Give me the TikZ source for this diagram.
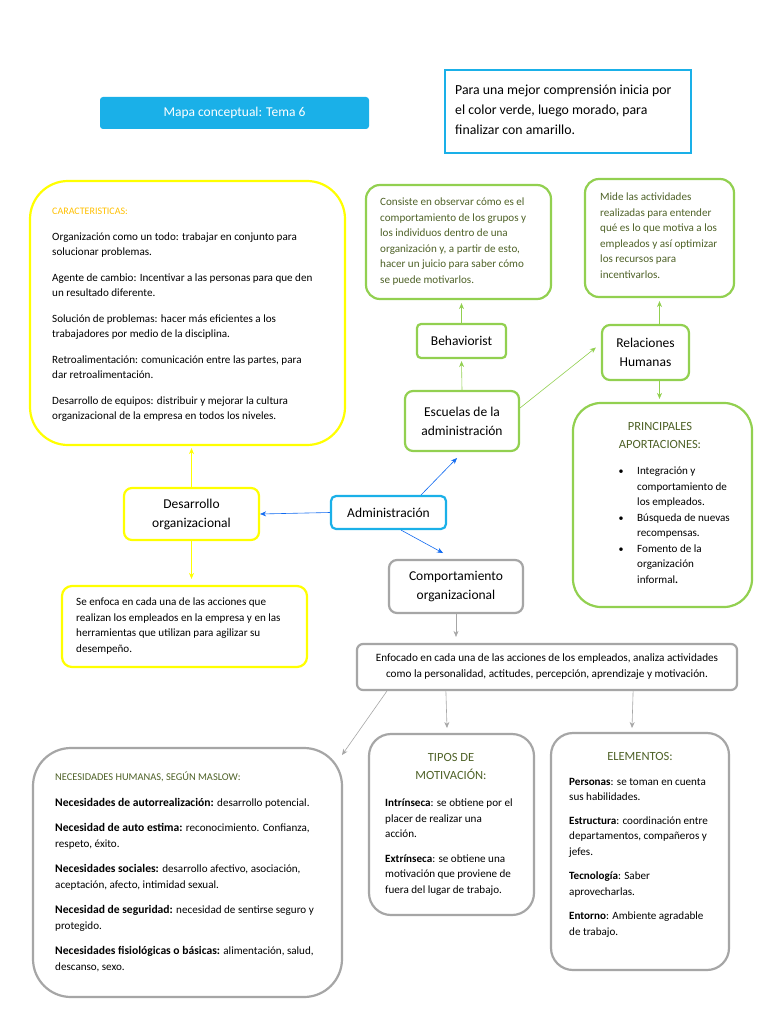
\documentclass[tikz,border=0pt]{standalone}
\usepackage{fontspec}
\setmainfont{Carlito}
\usetikzlibrary{arrows.meta}
\definecolor{cblue}{RGB}{26,176,232}
\definecolor{cgreen}{RGB}{146,208,80}
\definecolor{dgreen}{RGB}{79,98,40}
\definecolor{cyel}{RGB}{255,255,0}
\definecolor{corange}{RGB}{255,192,0}
\definecolor{cgray}{RGB}{166,166,166}
\tikzset{
 box/.style={draw,line width=2.2pt,inner sep=0pt},
 ybox/.style={box,draw=cyel},
 gbox/.style={box,draw=cgreen},
 grbox/.style={box,draw=cgray},
 txt/.style={inner sep=0pt,anchor=north west,font=\fontsize{11.1}{15.5}\selectfont,align=left},
 ctxt/.style={inner sep=0pt,align=center,font=\fontsize{13.5}{19}\selectfont},
 htxt/.style={inner sep=0pt,align=center,font=\fontsize{12.5}{18}\selectfont,text=dgreen},
 arr/.style={-{Stealth[length=6pt,width=5pt]},line width=0.6pt},
}
\begin{document}
\begin{tikzpicture}[x=1pt,y=-1pt]
\useasboundingbox (0,0) rectangle (768,1024);
\fill[white] (0,0) rectangle (768,1024);
% title
\node[fill=cblue,rounded corners=3pt,minimum width=269pt,minimum height=32pt,text=white,font=\fontsize{13.5}{15}\selectfont] (title) at (234.5,113) {Mapa conceptual: Tema 6};
\node[draw=cblue,line width=1.2pt,minimum width=246pt,minimum height=83pt] (note) at (568,111.5) {};
\node[txt,font=\fontsize{13.8}{20}\selectfont] (notet) at (455,85) {Para una mejor comprensión inicia por\\el color verde, luego morado, para\\finalizar con amarillo.};
% caracteristicas
\node[ybox,rounded corners=38pt,minimum width=315pt,minimum height=264pt] (car) at (187.5,313) {};
\node[txt] (cart) at (52,208) {\textcolor{corange}{\fontsize{10}{14}\selectfont CARACTERISTICAS:}\\[10pt]
Organización como un todo: trabajar en conjunto para\\solucionar problemas.\\[10pt]
Agente de cambio: Incentivar a las personas para que den\\un resultado diferente.\\[10pt]
Solución de problemas: hacer más eficientes a los\\trabajadores por medio de la disciplina.\\[10pt]
Retroalimentación: comunicación entre las partes, para\\dar retroalimentación.\\[10pt]
Desarrollo de equipos: distribuir y mejorar la cultura\\organizacional de la empresa en todos los niveles.};
\node[ybox,rounded corners=8pt,minimum width=135pt,minimum height=52pt] (des) at (191.5,514) {};
\node[ctxt] (dest) at (des) {Desarrollo\\organizacional};
\node[ybox,rounded corners=10pt,minimum width=245pt,minimum height=81pt] (desb) at (184.5,626.5) {};
\node[txt] (desbt) at (76,598) {Se enfoca en cada una de las acciones que\\realizan los empleados en la empresa y en las\\herramientas que utilizan para agilizar su\\desempeño.};
% administracion
\node[draw=cblue,line width=2.2pt,rounded corners=5pt,minimum width=115pt,minimum height=33pt,font=\fontsize{13.5}{15}\selectfont] (adm) at (388.5,512.5) {Administración};
% escuelas
\node[gbox,rounded corners=8pt,minimum width=114pt,minimum height=60pt] (esc) at (462,421) {};
\node[ctxt] (esct) at (esc) {Escuelas de la\\administración};
\node[gbox,rounded corners=4pt,minimum width=89pt,minimum height=34pt,font=\fontsize{13.5}{15}\selectfont] (beh) at (461.5,341) {Behaviorist};
\node[gbox,rounded corners=14pt,minimum width=185pt,minimum height=114pt] (obs) at (458.5,242) {};
\node[txt,text=dgreen] (obst) at (380,198) {Consiste en observar cómo es el\\comportamiento de los grupos y\\los individuos dentro de una\\organización y, a partir de esto,\\hacer un juicio para saber cómo\\se puede motivarlos.};
\node[gbox,rounded corners=8pt,minimum width=87pt,minimum height=55pt] (rel) at (645.5,352.5) {};
\node[ctxt] (relt) at (rel) {Relaciones\\Humanas};
\node[gbox,rounded corners=14pt,minimum width=149pt,minimum height=118pt] (mide) at (659.5,238) {};
\node[txt,text=dgreen] (midet) at (600,193) {Mide las actividades\\realizadas para entender\\qué es lo que motiva a los\\empleados y así optimizar\\los recursos para\\incentivarlos.};
\node[gbox,rounded corners=28pt,minimum width=179pt,minimum height=204pt] (pri) at (662.5,505) {};
\node[htxt,anchor=north] (prit) at (660,422) {PRINCIPALES\\APORTACIONES:};
\node[txt] (pril) at (637,467) {Integración y\\comportamiento de\\los empleados.\\Búsqueda de nuevas\\recompensas.\\Fomento de la\\organización\\informal\textbf{.}};
\node[inner sep=0pt] (b1) at (621,472) {\textbullet};
\node[inner sep=0pt] (b2) at (621,519) {\textbullet};
\node[inner sep=0pt] (b3) at (621,550) {\textbullet};
% comportamiento
\node[grbox,rounded corners=8pt,minimum width=134pt,minimum height=53pt] (com) at (456,586.5) {};
\node[ctxt] (comt) at (com) {Comportamiento\\organizacional};
\node[grbox,rounded corners=6pt,minimum width=380pt,minimum height=46pt] (enf) at (547,667) {};
\node[inner sep=0pt,align=center,font=\fontsize{11.2}{16}\selectfont] (enft) at (enf) {Enfocado en cada una de las acciones de los empleados, analiza actividades\\como la personalidad, actitudes, percepción, aprendizaje y motivación.};
\node[grbox,rounded corners=38pt,minimum width=309pt,minimum height=249pt] (nec) at (187.5,872.5) {};
\node[txt] (nect) at (55,772) {\textcolor{dgreen}{\fontsize{10.4}{14}\selectfont NECESIDADES HUMANAS, SEGÚN MASLOW:}\\[10pt]
{\fontsize{11.6}{15}\selectfont\textbf{Necesidades de autorrealización:}} desarrollo potencial.\\[10pt]
{\fontsize{11.6}{15}\selectfont\textbf{Necesidad de auto estima:}} reconocimiento. Confianza,\\respeto, éxito.\\[10pt]
{\fontsize{11.6}{15}\selectfont\textbf{Necesidades sociales:}} desarrollo afectivo, asociación,\\aceptación, afecto, intimidad sexual.\\[10pt]
{\fontsize{11.6}{15}\selectfont\textbf{Necesidad de seguridad:}} necesidad de sentirse seguro y\\protegido.\\[10pt]
{\fontsize{11.6}{15}\selectfont\textbf{Necesidades fisiológicas o básicas:}} alimentación, salud,\\descanso, sexo.};
\node[grbox,rounded corners=22pt,minimum width=165pt,minimum height=181pt] (tip) at (451.5,824.5) {};
\node[htxt,anchor=north] (tipt) at (451,753) {TIPOS DE\\MOTIVACIÓN:};
\node[txt] (tipx) at (385,799) {\textbf{Intrínseca}: se obtiene por el\\placer de realizar una\\acción.\\[9pt]\textbf{Extrínseca}: se obtiene una\\motivación que proviene de\\fuera del lugar de trabajo.};
\node[grbox,rounded corners=22pt,minimum width=178pt,minimum height=237pt] (ele) at (640,851.5) {};
\node[htxt] (elet) at (640,756) {ELEMENTOS:};
\node[txt] (elex) at (569,778) {\textbf{Personas}: se toman en cuenta\\sus habilidades.\\[8pt]\textbf{Estructura}: coordinación entre\\departamentos, compañeros y\\jefes.\\[9pt]\textbf{Tecnología}: Saber\\aprovecharlas.\\[9pt]\textbf{Entorno}: Ambiente agradable\\de trabajo.};
% arrows
\draw[arr,draw=cblue!60!blue] (adm.west) -- (des.east);
\draw[arr,draw=cblue!60!blue] (adm.north east)++(-26,0) -- (457,458);
\draw[arr,draw=cblue!60!blue] ([xshift=-46pt]adm.south east) -- (443,553);
\draw[arr,draw=cyel] (des.north) -- ([yshift=-2pt]car.south-|des.north);
\draw[arr,draw=cyel] (des.south) -- ([yshift=6pt]desb.north-|des.south);
\draw[arr,draw=cgreen] (esc.north) -- ([yshift=-2pt]beh.south);
\draw[arr,draw=cgreen] (beh.north) -- ([yshift=-3pt]obs.south-|beh.north);
\draw[arr,draw=cgreen] ([yshift=-18pt]esc.north east) -- ([xshift=-5pt,yshift=5pt]rel.west);
\draw[arr,draw=cgreen] ([xshift=14pt]rel.north) -- ([xshift=14pt,yshift=-3pt]mide.south-|rel.north);
\draw[arr,draw=cgreen] ([xshift=14pt]rel.south) -- ([xshift=14pt,yshift=3pt]pri.north-|rel.south);
\draw[arr,draw=cgray] (com.south) -- ([yshift=6pt]enf.north-|com.south);
\draw[arr,draw=cgray] ([xshift=31pt]enf.south west) -- (342,755);
\draw[arr,draw=cgray] ([xshift=90pt]enf.south west) -- (447,728);
\draw[arr,draw=cgray] ([xshift=-105pt]enf.south east) -- (632,728);
\end{tikzpicture}
\end{document}
